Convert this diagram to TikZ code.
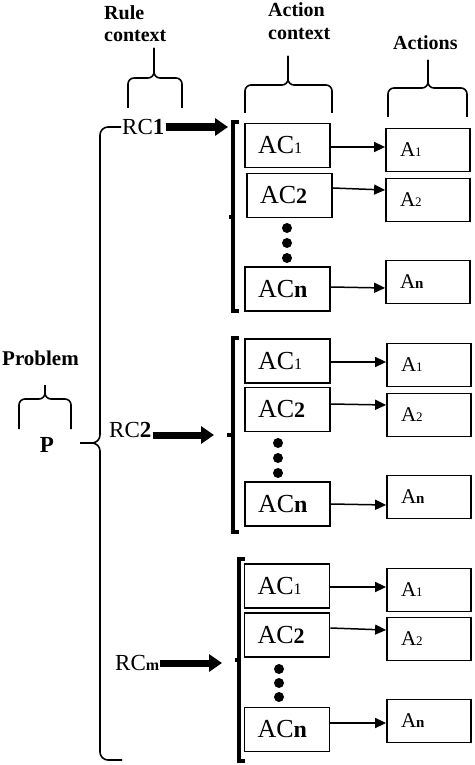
\documentclass[tikz,border=0pt]{standalone}
\usepackage{fontspec}
\setmainfont{Liberation Serif}
\usetikzlibrary{arrows.meta}
\newcommand{\smnum}[2]{{\fontsize{#1}{#1}\selectfont #2}}
\newcommand{\bfsub}[2]{{\fontsize{#1}{#1}\selectfont\bfseries #2}}
\begin{document}
\begin{tikzpicture}[x=1pt,y=-1pt,
 acbox/.style={draw,line width=1.8pt,minimum height=44pt,inner xsep=13pt,text width=59pt,align=left,inner ysep=0pt,font=\fontsize{26}{28}\selectfont},
 abox/.style={draw,line width=1.8pt,minimum height=43pt,inner xsep=14pt,text width=56pt,align=left,inner ysep=0pt,font=\fontsize{21}{24}\selectfont},
 conn/.style={line width=1.5pt,-{Triangle[length=11pt,width=10pt]}},
 fat/.style={line width=7pt,-{Triangle[length=13pt,width=17pt]}},
 brace/.style={line width=1.6pt,rounded corners=8pt},
 sbrace/.style={line width=1.6pt,rounded corners=6pt},
 bracket/.style={line width=3.5pt},
 head/.style={font=\bfseries\fontsize{20}{23}\selectfont,inner sep=0pt},
 rc/.style={font=\fontsize{23}{25}\selectfont,inner sep=1pt},
 dot/.style={circle,fill,inner sep=0pt,minimum size=10pt}]
\useasboundingbox[fill=white] (0,0) rectangle (474,765);

% headers
\node[head,anchor=base west] (hr1) at (104,20) {Rule};
\node[head,anchor=base west] (hr2) at (104,42) {context};
\node[head,anchor=base west] (ha1) at (268,17) {Action};
\node[head,anchor=base west] (ha2) at (268,40) {context};
\node[head,anchor=base west] (hac) at (393,50) {Actions};
\node[head,anchor=base west,font=\bfseries\fontsize{21}{23}\selectfont] (hp) at (2,365) {Problem};

% header braces
\draw[sbrace] (128,108) -- (128,78) -- (154,78) -- (154,48);
\draw[sbrace] (182,108) -- (182,78) -- (154,78) -- (154,48);
\draw[sbrace] (245,113) -- (245,85) -- (288,85) -- (288,56);
\draw[sbrace] (332,113) -- (332,85) -- (288,85) -- (288,56);
\draw[sbrace] (388,117) -- (388,88) -- (428,88) -- (428,60);
\draw[sbrace] (467,117) -- (467,88) -- (428,88) -- (428,60);
\draw[sbrace] (19,429) -- (19,399) -- (45,399) -- (45,385);
\draw[sbrace] (71,429) -- (71,399) -- (45,399) -- (45,385);

% problem and rule contexts
\node[font=\bfseries\fontsize{23}{25}\selectfont] (p) at (47,445) {P};
\node[rc,anchor=west] (rc1) at (121,127) {RC\textbf{1}};
\node[rc,anchor=west] (rc2) at (108,430) {RC\textbf{2}};
\node[rc,anchor=west] (rcm) at (114,663) {RC\bfsub{16}{m}};
\coordinate (ptip) at (80,443);

% big brace
\draw[brace] (rc1.west) -- (100,127) -- (100,443) -- (ptip);
\draw[brace] (122,760) -- (100,760) -- (100,443) -- (ptip);

% fat arrows
\coordinate (b1) at (228,127);
\coordinate (b2) at (214,435);
\coordinate (b3) at (222,663);
\draw[fat] (rc1.east) -- (b1);
\draw[fat] (rc2.east |- b2) -- (b2);
\draw[fat] (rcm.east |- b3) -- (b3);

% brackets
\draw[bracket] (239,122) -- (233,122) -- (233,311) -- (239,311);
\draw[bracket] (229,217) -- (233,217);
\draw[bracket] (239,338) -- (233,338) -- (233,532) -- (239,532);
\draw[bracket] (227,435) -- (233,435);
\draw[bracket] (245,559) -- (239,559) -- (239,761) -- (245,761);
\draw[bracket] (235,660) -- (239,660);

% group 1
\node[acbox] (ac11) at (287.5,145.5) {AC\smnum{16}{1}};
\node[acbox] (ac12) at (289.5,195.5) {AC\bfsub{22}{2}};
\node[acbox] (ac1n) at (287.5,289) {AC\bfsub{24}{n}};
\node[abox] (a11) at (428,150) {A\smnum{13}{1}};
\node[abox] (a12) at (428,200) {A\smnum{13}{2}};
\node[abox] (a1n) at (428,282) {A\bfsub{15}{n}};
\node[dot] (d11) at (287,228) {};
\node[dot] (d12) at (287,243) {};
\node[dot] (d13) at (287,258) {};
\draw[conn] (ac11.east |- 0,147) -- (a11.west |- 0,147);
\draw[conn] (ac12.east |- 0,188) -- (a12.west |- 0,190);
\draw[conn] (ac1n.east |- 0,287) -- (a1n.west |- 0,288);

% group 2
\node[acbox] (ac21) at (287.5,361) {AC\smnum{16}{1}};
\node[acbox] (ac22) at (287.5,409.5) {AC\bfsub{22}{2}};
\node[acbox] (ac2n) at (287.5,504) {AC\bfsub{24}{n}};
\node[abox] (a21) at (429,365) {A\smnum{13}{1}};
\node[abox] (a22) at (429,415) {A\smnum{13}{2}};
\node[abox] (a2n) at (429,497) {A\bfsub{15}{n}};
\node[dot] (d21) at (278,443) {};
\node[dot] (d22) at (278,458) {};
\node[dot] (d23) at (278,473) {};
\draw[conn] (ac21.east |- 0,362) -- (a21.west |- 0,362);
\draw[conn] (ac22.east |- 0,404) -- (a22.west |- 0,405);
\draw[conn] (ac2n.east |- 0,504) -- (a2n.west |- 0,505);

% group 3
\node[acbox] (ac31) at (287,586) {AC\smnum{16}{1}};
\node[acbox] (ac32) at (287,635) {AC\bfsub{22}{2}};
\node[acbox] (ac3n) at (287,729.5) {AC\bfsub{24}{n}};
\node[abox] (a31) at (429,590) {A\smnum{13}{1}};
\node[abox] (a32) at (429,639) {A\smnum{13}{2}};
\node[abox] (a3n) at (429,721) {A\bfsub{15}{n}};
\node[dot] (d31) at (279,669) {};
\node[dot] (d32) at (279,683) {};
\node[dot] (d33) at (279,697) {};
\draw[conn] (ac31.east |- 0,587) -- (a31.west |- 0,587);
\draw[conn] (ac32.east |- 0,628) -- (a32.west |- 0,630);
\draw[conn] (ac3n.east |- 0,723) -- (a3n.west |- 0,723);
\end{tikzpicture}
\end{document}
